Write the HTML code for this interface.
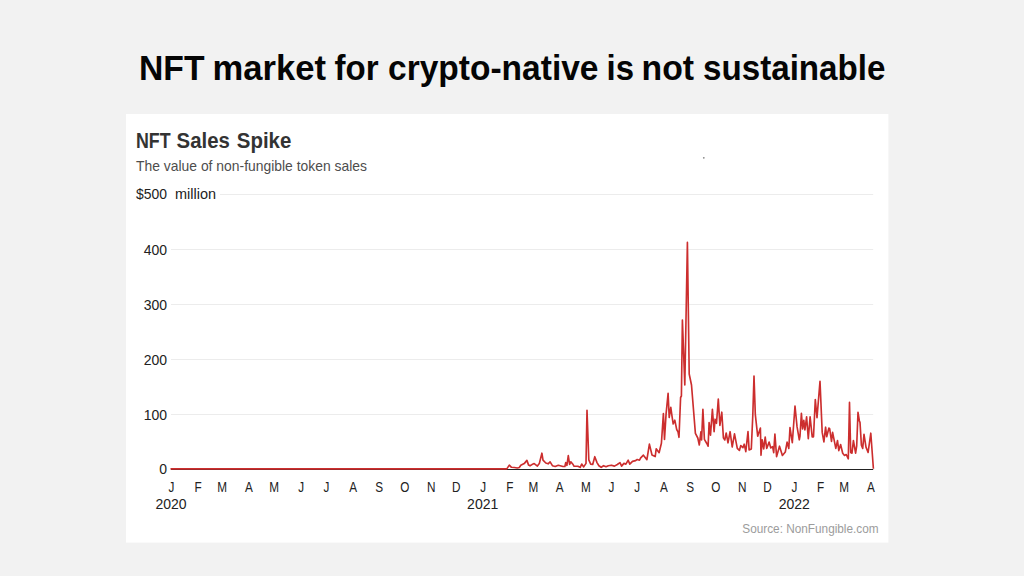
<!DOCTYPE html>
<html><head><meta charset="utf-8">
<style>
html,body{margin:0;padding:0;width:1024px;height:576px;overflow:hidden;background:#f2f2f2;}
svg{position:absolute;left:0;top:0;}
</style></head><body>
<svg width="1024" height="576" viewBox="0 0 1024 576" font-family="Liberation Sans, sans-serif">
<rect x="0" y="0" width="1024" height="576" fill="#f2f2f2"/>
<g font-weight="bold" font-size="34.2" fill="#050505"><text x="139.0" y="80" textLength="65.5" lengthAdjust="spacingAndGlyphs">NFT</text><text x="212.5" y="80" textLength="113.5" lengthAdjust="spacingAndGlyphs">market</text><text x="334.5" y="80" textLength="44.0" lengthAdjust="spacingAndGlyphs">for</text><text x="388.0" y="80" textLength="210.5" lengthAdjust="spacingAndGlyphs">crypto-native</text><text x="606.5" y="80" textLength="27.5" lengthAdjust="spacingAndGlyphs">is</text><text x="641.5" y="80" textLength="52.5" lengthAdjust="spacingAndGlyphs">not</text><text x="703.0" y="80" textLength="182.5" lengthAdjust="spacingAndGlyphs">sustainable</text></g>
<rect x="126" y="114" width="762.4" height="428.6" fill="#ffffff"/>
<g font-weight="bold" font-size="22.6" fill="#333"><text x="136" y="148" textLength="34.6" lengthAdjust="spacingAndGlyphs">NFT</text><text x="176.6" y="148" textLength="53.2" lengthAdjust="spacingAndGlyphs">Sales</text><text x="236.8" y="148" textLength="54.5" lengthAdjust="spacingAndGlyphs">Spike</text></g>
<text x="136" y="170.6" font-size="14.3" fill="#4d4d4d" textLength="231" lengthAdjust="spacingAndGlyphs">The value of non-fungible token sales</text>
<g stroke="#ececec" stroke-width="1">
<line x1="220" y1="194.5" x2="873.2" y2="194.5"/>
<line x1="171" y1="249.5" x2="873.2" y2="249.5"/>
<line x1="171" y1="304.5" x2="873.2" y2="304.5"/>
<line x1="171" y1="359.5" x2="873.2" y2="359.5"/>
<line x1="171" y1="414.5" x2="873.2" y2="414.5"/>
</g>
<line x1="171" y1="469.5" x2="873.2" y2="469.5" stroke="#222" stroke-width="1.2"/>
<g font-size="14" fill="#222">
<text x="136" y="199" textLength="31" lengthAdjust="spacingAndGlyphs">$500</text><text x="175" y="199" textLength="41" lengthAdjust="spacingAndGlyphs">million</text>
<text x="167" y="254.6" text-anchor="end">400</text>
<text x="167" y="309.6" text-anchor="end">300</text>
<text x="167" y="364.6" text-anchor="end">200</text>
<text x="167" y="419.6" text-anchor="end">100</text>
<text x="167" y="474.4" text-anchor="end">0</text>
<text transform="translate(171.4,491.6) scale(0.84,1)" text-anchor="middle">J</text>
<text transform="translate(198.0,491.6) scale(0.84,1)" text-anchor="middle">F</text>
<text transform="translate(222.2,491.6) scale(0.84,1)" text-anchor="middle">M</text>
<text transform="translate(249.0,491.6) scale(0.84,1)" text-anchor="middle">A</text>
<text transform="translate(274.1,491.6) scale(0.84,1)" text-anchor="middle">M</text>
<text transform="translate(301.1,491.6) scale(0.84,1)" text-anchor="middle">J</text>
<text transform="translate(326.4,491.6) scale(0.84,1)" text-anchor="middle">J</text>
<text transform="translate(353.2,491.6) scale(0.84,1)" text-anchor="middle">A</text>
<text transform="translate(379.1,491.6) scale(0.84,1)" text-anchor="middle">S</text>
<text transform="translate(404.7,491.6) scale(0.84,1)" text-anchor="middle">O</text>
<text transform="translate(431.2,491.6) scale(0.84,1)" text-anchor="middle">N</text>
<text transform="translate(456.3,491.6) scale(0.84,1)" text-anchor="middle">D</text>
<text transform="translate(483.1,491.6) scale(0.84,1)" text-anchor="middle">J</text>
<text transform="translate(509.9,491.6) scale(0.84,1)" text-anchor="middle">F</text>
<text transform="translate(533.5,491.6) scale(0.84,1)" text-anchor="middle">M</text>
<text transform="translate(559.7,491.6) scale(0.84,1)" text-anchor="middle">A</text>
<text transform="translate(585.9,491.6) scale(0.84,1)" text-anchor="middle">M</text>
<text transform="translate(611.5,491.6) scale(0.84,1)" text-anchor="middle">J</text>
<text transform="translate(637.3,491.6) scale(0.84,1)" text-anchor="middle">J</text>
<text transform="translate(663.8,491.6) scale(0.84,1)" text-anchor="middle">A</text>
<text transform="translate(690.1,491.6) scale(0.84,1)" text-anchor="middle">S</text>
<text transform="translate(715.7,491.6) scale(0.84,1)" text-anchor="middle">O</text>
<text transform="translate(742.2,491.6) scale(0.84,1)" text-anchor="middle">N</text>
<text transform="translate(767.6,491.6) scale(0.84,1)" text-anchor="middle">D</text>
<text transform="translate(794.5,491.6) scale(0.84,1)" text-anchor="middle">J</text>
<text transform="translate(820.6,491.6) scale(0.84,1)" text-anchor="middle">F</text>
<text transform="translate(844.1,491.6) scale(0.84,1)" text-anchor="middle">M</text>
<text transform="translate(871.0,491.6) scale(0.84,1)" text-anchor="middle">A</text>
<text x="171" y="509.1" text-anchor="middle">2020</text>
<text x="482.7" y="509.1" text-anchor="middle">2021</text>
<text x="794.3" y="509.1" text-anchor="middle">2022</text>
</g>
<text x="742.3" y="533.4" font-size="13" fill="#9c9c9c" textLength="136.3" lengthAdjust="spacingAndGlyphs">Source: NonFungible.com</text>
<circle cx="703.8" cy="157.8" r="0.9" fill="#888"/>
<path d="M170.5 468.9 L506.8 468.9 L509.3 465.1 L511.5 467.3 L514.4 467.5 L517.3 468.0 L519.3 467.5 L520.8 465.3 L524.2 463.6 L526.9 460.4 L528.6 465.1 L530.0 465.8 L532.0 464.6 L534.2 463.6 L537.4 466.1 L539.3 463.6 L541.9 453.2 L543.0 460.2 L545.8 463.0 L548.1 463.8 L550.1 461.8 L552.4 465.7 L555.2 466.5 L558.3 465.3 L563.0 466.5 L564.9 466.5 L565.7 462.6 L566.9 465.3 L568.3 455.5 L569.6 464.5 L570.8 461.8 L573.1 464.5 L573.9 466.1 L577.8 466.2 L580.2 467.3 L581.7 464.1 L583.7 466.9 L586.0 463.4 L587.0 410.3 L588.8 459.8 L590.7 464.1 L592.7 464.5 L594.8 456.7 L597.0 462.6 L598.9 465.7 L601.2 467.3 L603.6 465.7 L606.0 466.7 L608.3 465.7 L611.4 465.2 L614.5 466.1 L617.3 464.5 L620.0 462.6 L621.6 466.1 L623.9 463.4 L625.9 464.1 L628.2 460.2 L629.8 464.1 L632.5 461.4 L635.6 460.6 L637.2 459.5 L639.5 460.2 L640.7 457.9 L643.4 455.2 L646.9 459.7 L649.4 444.1 L652.0 455.0 L655.2 456.6 L656.2 448.8 L659.1 452.7 L661.4 443.3 L663.4 413.6 L664.5 439.4 L666.1 413.6 L668.1 393.3 L669.2 417.5 L670.8 407.3 L672.0 416.2 L673.2 424.0 L674.8 420.2 L676.7 429.5 L678.0 431.9 L679.0 437.3 L680.6 397.5 L681.4 396.0 L682.4 320.0 L684.8 385.0 L687.4 242.4 L689.2 374.0 L691.5 385.0 L695.4 433.4 L697.8 438.0 L699.3 445.0 L700.9 431.9 L701.6 440.0 L702.9 409.4 L704.4 439.3 L706.8 443.5 L708.1 446.2 L709.1 422.6 L710.5 435.1 L712.4 409.4 L714.1 431.7 L715.1 419.2 L716.5 423.3 L718.3 399.0 L719.9 425.4 L721.8 412.2 L723.4 437.9 L724.8 440.0 L726.2 433.0 L728.0 442.8 L730.1 431.7 L732.2 447.0 L734.5 433.8 L737.3 448.3 L739.4 450.4 L740.8 445.6 L742.9 447.6 L744.2 444.2 L745.8 451.7 L748.0 431.6 L749.1 449.9 L751.3 448.9 L752.8 415.2 L754.0 376.0 L755.3 414.3 L757.7 436.2 L760.4 428.0 L761.0 455.3 L762.2 439.8 L763.7 448.9 L765.2 437.0 L766.7 448.5 L769.1 442.1 L770.8 447.9 L772.6 446.7 L773.7 452.6 L774.9 434.0 L776.6 456.6 L779.5 446.2 L782.4 455.5 L785.3 452.0 L787.1 442.1 L788.8 448.5 L790.0 427.6 L792.3 442.7 L795.0 406.0 L797.0 426.4 L799.3 439.8 L800.0 436.0 L801.4 413.4 L802.6 429.0 L803.8 420.3 L804.9 430.0 L806.6 416.9 L808.3 438.6 L810.1 416.9 L812.2 436.8 L813.5 436.8 L815.3 399.5 L817.0 417.7 L820.0 381.3 L822.2 432.4 L823.9 441.9 L825.6 427.2 L826.7 436.7 L828.9 428.0 L829.7 428.9 L831.5 441.5 L832.6 432.4 L835.8 448.4 L837.5 440.6 L838.8 450.6 L840.6 444.5 L842.7 453.2 L844.5 455.4 L846.2 454.5 L848.3 458.8 L849.5 402.4 L850.7 452.5 L852.0 453.2 L853.4 440.5 L855.6 453.2 L856.7 445.8 L858.0 412.4 L859.4 421.0 L860.0 422.4 L861.4 445.1 L862.7 448.5 L864.0 434.4 L866.0 447.1 L868.1 452.5 L870.8 433.2 L873.4 468.7" fill="none" stroke="#cc2e2e" stroke-width="1.65" stroke-linejoin="round"/>
</svg>
</body></html>
